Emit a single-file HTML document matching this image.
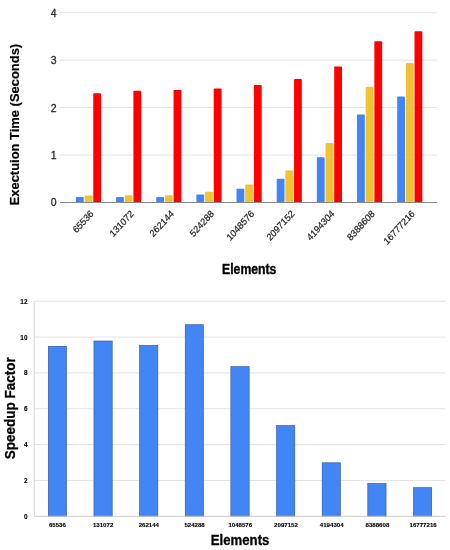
<!DOCTYPE html>
<html><head><meta charset="utf-8"><title>Charts</title>
<style>
html,body{margin:0;padding:0;background:#fff;}
body{width:450px;height:550px;overflow:hidden;}
svg{display:block;}
text{font-family:"Liberation Sans",sans-serif;}
.b{font-weight:bold;}
</style></head><body>
<svg width="450" height="550" viewBox="0 0 450 550">
<rect width="450" height="550" fill="#fff"/>

<g stroke="#e4e4e4" stroke-width="1">
<line x1="60" x2="437" y1="155.05" y2="155.05"/>
<line x1="60" x2="437" y1="107.60" y2="107.60"/>
<line x1="60" x2="437" y1="60.15" y2="60.15"/>
<line x1="60" x2="437" y1="12.70" y2="12.70"/>
</g>
<g font-size="10.5" fill="#222" stroke="#222" stroke-width="0.25" text-anchor="end">
<text transform="translate(56.5,206.40) scale(1,1.06)">0</text>
<text transform="translate(56.5,158.95) scale(1,1.06)">1</text>
<text transform="translate(56.5,111.50) scale(1,1.06)">2</text>
<text transform="translate(56.5,64.05) scale(1,1.06)">3</text>
<text transform="translate(56.5,16.60) scale(1,1.06)">4</text>
</g>
<rect x="75.90" y="197.00" width="7.8" height="5.50" rx="0.8" fill="#4285f4"/>
<rect x="84.57" y="195.50" width="7.8" height="7.00" rx="0.8" fill="#f1c232"/>
<rect x="93.24" y="93.30" width="7.8" height="109.20" rx="0.8" fill="#ff0000"/>
<rect x="116.06" y="197.00" width="7.8" height="5.50" rx="0.8" fill="#4285f4"/>
<rect x="124.73" y="195.20" width="7.8" height="7.30" rx="0.8" fill="#f1c232"/>
<rect x="133.40" y="90.70" width="7.8" height="111.80" rx="0.8" fill="#ff0000"/>
<rect x="156.22" y="197.00" width="7.8" height="5.50" rx="0.8" fill="#4285f4"/>
<rect x="164.89" y="195.20" width="7.8" height="7.30" rx="0.8" fill="#f1c232"/>
<rect x="173.56" y="90.10" width="7.8" height="112.40" rx="0.8" fill="#ff0000"/>
<rect x="196.38" y="194.40" width="7.8" height="8.10" rx="0.8" fill="#4285f4"/>
<rect x="205.05" y="191.70" width="7.8" height="10.80" rx="0.8" fill="#f1c232"/>
<rect x="213.72" y="88.50" width="7.8" height="114.00" rx="0.8" fill="#ff0000"/>
<rect x="236.54" y="188.80" width="7.8" height="13.70" rx="0.8" fill="#4285f4"/>
<rect x="245.21" y="184.50" width="7.8" height="18.00" rx="0.8" fill="#f1c232"/>
<rect x="253.88" y="85.00" width="7.8" height="117.50" rx="0.8" fill="#ff0000"/>
<rect x="276.70" y="178.70" width="7.8" height="23.80" rx="0.8" fill="#4285f4"/>
<rect x="285.37" y="170.40" width="7.8" height="32.10" rx="0.8" fill="#f1c232"/>
<rect x="294.04" y="79.10" width="7.8" height="123.40" rx="0.8" fill="#ff0000"/>
<rect x="316.86" y="157.20" width="7.8" height="45.30" rx="0.8" fill="#4285f4"/>
<rect x="325.53" y="143.10" width="7.8" height="59.40" rx="0.8" fill="#f1c232"/>
<rect x="334.20" y="66.50" width="7.8" height="136.00" rx="0.8" fill="#ff0000"/>
<rect x="357.02" y="114.60" width="7.8" height="87.90" rx="0.8" fill="#4285f4"/>
<rect x="365.69" y="86.85" width="7.8" height="115.65" rx="0.8" fill="#f1c232"/>
<rect x="374.36" y="41.30" width="7.8" height="161.20" rx="0.8" fill="#ff0000"/>
<rect x="397.18" y="96.50" width="7.8" height="106.00" rx="0.8" fill="#4285f4"/>
<rect x="405.85" y="62.90" width="7.8" height="139.60" rx="0.8" fill="#f1c232"/>
<rect x="414.52" y="31.15" width="7.8" height="171.35" rx="0.8" fill="#ff0000"/>
<line x1="60" x2="437" y1="202.5" y2="202.5" stroke="#8a8a8a" stroke-width="1"/>
<g font-size="9.35" fill="#222" stroke="#222" stroke-width="0.22" text-anchor="end">
<text transform="translate(94.10,214.30) scale(0.955,1.05) rotate(-45)">65536</text>
<text transform="translate(134.26,214.30) scale(0.955,1.05) rotate(-45)">131072</text>
<text transform="translate(174.42,214.30) scale(0.955,1.05) rotate(-45)">262144</text>
<text transform="translate(214.58,214.30) scale(0.955,1.05) rotate(-45)">524288</text>
<text transform="translate(254.74,214.30) scale(0.955,1.05) rotate(-45)">1048576</text>
<text transform="translate(294.90,214.30) scale(0.955,1.05) rotate(-45)">2097152</text>
<text transform="translate(335.06,214.30) scale(0.955,1.05) rotate(-45)">4194304</text>
<text transform="translate(375.22,214.30) scale(0.955,1.05) rotate(-45)">8388608</text>
<text transform="translate(415.38,214.30) scale(0.955,1.05) rotate(-45)">16777216</text>
</g>
<text class="b" font-size="13" fill="#000" stroke="#000" stroke-width="0.35" text-anchor="middle" transform="translate(249.2,274.2) scale(1,1.06)" textLength="54.3" lengthAdjust="spacingAndGlyphs">Elements</text>
<text class="b" font-size="13" fill="#000" stroke="#000" stroke-width="0.2" text-anchor="middle" transform="translate(19,124.6) rotate(-90)" textLength="161.5" lengthAdjust="spacingAndGlyphs">Exectuion Time (Seconds)</text>
<g stroke="#e3e3e3" stroke-width="1">
<line x1="34.3" x2="445.5" y1="480.46" y2="480.46"/>
<line x1="34.3" x2="445.5" y1="444.62" y2="444.62"/>
<line x1="34.3" x2="445.5" y1="408.78" y2="408.78"/>
<line x1="34.3" x2="445.5" y1="372.94" y2="372.94"/>
<line x1="34.3" x2="445.5" y1="337.10" y2="337.10"/>
<line x1="34.3" x2="445.5" y1="301.26" y2="301.26"/>
</g>
<line x1="34.3" x2="34.3" y1="301.26" y2="516.3" stroke="#d6d6d6" stroke-width="1"/>
<rect x="48.29" y="346.30" width="18.26" height="170.00" fill="#4285f4" stroke="#2c4f9c" stroke-width="0.6"/>
<rect x="93.94" y="341.00" width="18.26" height="175.30" fill="#4285f4" stroke="#2c4f9c" stroke-width="0.6"/>
<rect x="139.58" y="345.40" width="18.26" height="170.90" fill="#4285f4" stroke="#2c4f9c" stroke-width="0.6"/>
<rect x="185.23" y="324.70" width="18.26" height="191.60" fill="#4285f4" stroke="#2c4f9c" stroke-width="0.6"/>
<rect x="230.87" y="366.60" width="18.26" height="149.70" fill="#4285f4" stroke="#2c4f9c" stroke-width="0.6"/>
<rect x="276.52" y="425.60" width="18.26" height="90.70" fill="#4285f4" stroke="#2c4f9c" stroke-width="0.6"/>
<rect x="322.16" y="462.80" width="18.26" height="53.50" fill="#4285f4" stroke="#2c4f9c" stroke-width="0.6"/>
<rect x="367.80" y="483.50" width="18.26" height="32.80" fill="#4285f4" stroke="#2c4f9c" stroke-width="0.6"/>
<rect x="413.45" y="487.70" width="18.26" height="28.60" fill="#4285f4" stroke="#2c4f9c" stroke-width="0.6"/>
<line x1="34.3" x2="445.5" y1="516.3" y2="516.3" stroke="#c8c8c8" stroke-width="1"/>
<g class="b" font-size="6.7" fill="#000" stroke="#000" stroke-width="0.12" text-anchor="end">
<text transform="translate(27.5,518.80) scale(0.96,1)">0</text>
<text transform="translate(27.5,482.96) scale(0.96,1)">2</text>
<text transform="translate(27.5,447.12) scale(0.96,1)">4</text>
<text transform="translate(27.5,411.28) scale(0.96,1)">6</text>
<text transform="translate(27.5,375.44) scale(0.96,1)">8</text>
<text transform="translate(27.5,339.60) scale(0.96,1)">10</text>
<text transform="translate(27.5,303.76) scale(0.96,1)">12</text>
</g>
<g class="b" font-size="6.1" fill="#000" stroke="#000" stroke-width="0.12" text-anchor="middle">
<text x="57.42" y="527.4">65536</text>
<text x="103.14" y="527.4">131072</text>
<text x="148.85" y="527.4">262144</text>
<text x="194.57" y="527.4">524288</text>
<text x="240.28" y="527.4">1048576</text>
<text x="285.99" y="527.4">2097152</text>
<text x="331.71" y="527.4">4194304</text>
<text x="377.42" y="527.4">8388608</text>
<text x="423.14" y="527.4">16777216</text>
</g>
<text class="b" font-size="14.4" fill="#000" stroke="#000" stroke-width="0.3" text-anchor="middle" x="240.1" y="545.1" textLength="58.6" lengthAdjust="spacingAndGlyphs">Elements</text>
<text class="b" font-size="15" fill="#000" stroke="#000" stroke-width="0.3" text-anchor="middle" transform="translate(14.7,408.3) rotate(-90)" textLength="102" lengthAdjust="spacingAndGlyphs">Speedup Factor</text>
</svg></body></html>
